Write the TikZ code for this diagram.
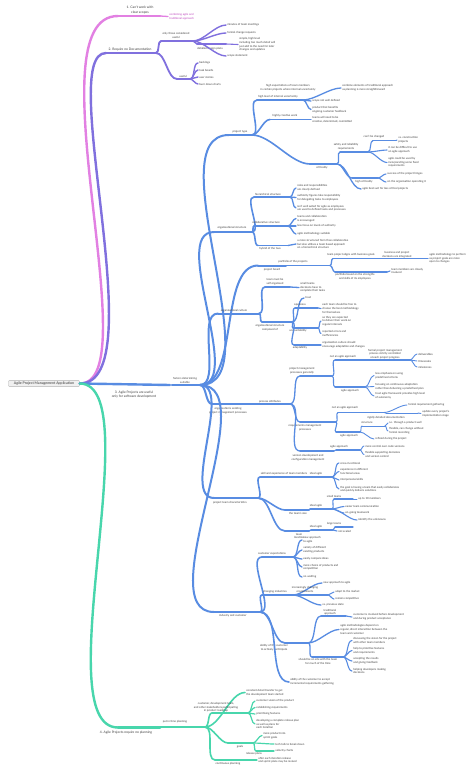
\documentclass[tikz,border=0pt]{standalone}
\usepackage{fontspec}
\setmainfont{Lato}
\definecolor{pinkc}{RGB}{226,128,226}
\definecolor{pinkt}{RGB}{190,70,190}
\definecolor{purpc}{RGB}{128,112,222}
\definecolor{bluec}{RGB}{88,140,226}
\definecolor{tealc}{RGB}{72,214,172}
\definecolor{txt}{RGB}{62,62,62}
\tikzset{
 cv/.style={out=0,in=180,looseness=0.75},
 ln/.style={line cap=round,line join=round},
 pk1/.style={ln,pinkc,line width=2.4bp}, pk2/.style={ln,pinkc,line width=1.3bp},
 pu1/.style={ln,purpc,line width=2.4bp}, pu2/.style={ln,purpc,line width=1.8bp},
 pu3/.style={ln,purpc,line width=1.4bp}, pu4/.style={ln,purpc,line width=1.1bp},
 bl1/.style={ln,bluec,line width=2.4bp}, bl2/.style={ln,bluec,line width=2bp},
 bl3/.style={ln,bluec,line width=1.6bp}, bl4/.style={ln,bluec,line width=1.3bp},
 bl5/.style={ln,bluec,line width=1.1bp}, bl6/.style={ln,bluec,line width=0.9bp},
 tl1/.style={ln,tealc,line width=2.4bp}, tl2/.style={ln,tealc,line width=2bp},
 tl3/.style={ln,tealc,line width=1.6bp}, tl4/.style={ln,tealc,line width=1.2bp},
 lbl/.style={inner sep=0pt,align=center,text=txt,font=\fontsize{2.8}{3.6}\selectfont},
 lbl1/.style={lbl,font=\fontsize{3.3}{4.1}\selectfont},
 leaf/.style={inner xsep=1.2bp,inner ysep=0pt,anchor=west,align=left,text=txt,font=\fontsize{2.8}{3.6}\selectfont},
 rootbox/.style={draw=gray!60,fill=gray!12,rounded corners=0.8bp,inner xsep=1.5bp,inner ysep=1.2bp,text=black!80,font=\fontsize{3.6}{4}\selectfont}
}
% name, style, xs, xj, line y, text x, text y, text
\newcommand\inode[9][lbl]{%
 \coordinate (#2s) at (#4,#6);
 \coordinate (#2) at (#5,#6);
 \draw[#3] (#2s) -- (#2);
 \node[#1] (#2t) at (#7,#8) {#9};}
\newcommand\lf[5][]{\node[leaf,#1] (#2) at (#3,#4) {#5};}
\newcommand\cl[3]{\draw[#1] (#2) to[cv] (#3);}
\begin{document}
\begin{tikzpicture}[x=1bp,y=-1bp]
\fill[white] (0,0) rectangle (474,772);
\useasboundingbox (0,0) rectangle (474,772);

% ---------- root
\node[rootbox,minimum width=71bp] (root) at (44,383.5) {Agile Project Management Application};

% ---------- 1 (pink)
\inode[lbl1]{P1}{pk1}{118}{160}{16}{140}{10}{1. Can't work with\\clear scopes}
\draw[pk1] (root.east) .. controls (150,384) and (30,16) .. (P1s);
\lf[text=pinkt]{P1a}{168}{16.5}{combining agile and\\traditional approach}
\draw[pk2] (P1) -- (P1a.west);

% ---------- 2 (purple)
\inode[lbl1]{P2}{pu1}{106}{156}{53}{130}{49.5}{2. Require no Documentation}
\draw[pu1] (root.east) .. controls (155,384) and (55,53) .. (P2s);
\inode{P2a}{pu2}{161}{193}{41}{176}{35.5}{only those considered\\useful}
\cl{pu2}{P2}{P2as}
\lf{P2a1}{226}{25}{minutes of team meetings}
\lf{P2a2}{226}{33}{formal change requests}
\inode{P2a3}{pu3}{197}{226}{44}{210}{48.5}{detailed design plans}
\lf{P2a3a}{238}{44.5}{simple, high level\\including too much detail will\\just add to the need for later\\changes and updates}
\lf{P2a4}{226}{56}{scope statement}
\cl{pu3}{P2a}{P2a1.west}
\cl{pu3}{P2a}{P2a2.west}
\cl{pu3}{P2a}{P2a3s}
\draw[pu4] (P2a3) -- (P2a3a.west);
\cl{pu3}{P2a}{P2a4.west}
\inode{P2b}{pu2}{177}{190}{79}{183}{76.5}{useful}
\cl{pu2}{P2}{P2bs}
\lf{P2b1}{198}{63}{backlogs}
\lf{P2b2}{198}{70}{task boards}
\lf{P2b3}{198}{77}{user stories}
\lf{P2b4}{198}{84}{burn down charts}
\foreach \k in {1,2,3,4}{\cl{pu3}{P2b}{P2b\k.west}}

% ---------- 3 (blue)
\node[lbl1] (B0t) at (134,395) {3. Agile Projects are useful\\only for software development};
\coordinate (B0) at (170,385);
\draw[bl1] (root.east) -- (B0);
\inode{J3}{bl1}{172}{200}{385}{185}{380.5}{factors determining\\suitable}

% project type
\inode{B1}{bl2}{229}{252}{135}{240}{131.5}{project type}
\cl{bl2}{J3}{B1s}
\inode{B1a}{bl3}{257}{303}{100}{278}{96.5}{high level of internal uncertainty}
\cl{bl3}{B1}{B1as}
\lf{B1a1}{311}{101}{scope not well defined}
\lf{B1a2}{311}{109.5}{product that benefits\\ongoing customer feedback}
\lf{B1a3}{341}{88}{combine elements of traditional approach\\as planning is more straightforward}
\cl{bl4}{B1a}{B1a1.west}
\cl{bl4}{B1a}{B1a2.west}
\cl{bl4}{B1a}{B1a3.west}
\node[lbl] (B1b) at (288,87.5) {high expectations of team members\\in certain projects where internal uncertainty};
\inode{B1c}{bl3}{270}{300}{119.5}{285}{116}{highly creative work}
\cl{bl3}{B1}{B1cs}
\lf{B1c1}{311}{119.5}{teams will need to be\\creative, determined, committed}
\cl{bl4}{B1c}{B1c1.west}
\inode{B1d}{bl3}{310}{337}{164}{322}{168}{criticality}
\cl{bl3}{B1}{B1ds}
\inode{B1d1}{bl4}{340}{368}{152}{346}{146.5}{safety and reliability\\requirements}
\cl{bl4}{B1d}{B1d1s}
\inode{B1d1a}{bl5}{373}{396}{140.5}{374}{137}{can't be changed}
\cl{bl5}{B1d1}{B1d1as}
\lf{B1d1a1}{397}{140}{vs. construction\\projects}
\draw[bl5] (B1d1a) -- (B1d1a1.west);
\lf{B1d1b}{387}{150}{it can be difficult to use\\an agile approach}
\lf{B1d1c}{387}{162.5}{agile could be used by\\incorporating some fixed\\requirements}
\cl{bl5}{B1d1}{B1d1b.west}
\cl{bl5}{B1d1}{B1d1c.west}
\inode{B1d2}{bl4}{352}{378}{178}{364}{181.5}{high criticality}
\cl{bl4}{B1d}{B1d2s}
\lf{B1d2a}{386}{174}{success of the project hinges}
\lf{B1d2b}{386}{182}{on the organisation operating it}
\cl{bl5}{B1d2}{B1d2a.west}
\cl{bl5}{B1d2}{B1d2b.west}
\lf{B1d3}{361}{189}{agile best suit for less critical projects}
\cl{bl4}{B1d}{B1d3.west}

% organisational structure
\inode{B2}{bl2}{214}{252}{232}{232}{227.5}{organisational structure}
\cl{bl2}{J3}{B2s}
\inode{B2a}{bl3}{254}{290}{197}{268}{194}{hierarchical structure}
\cl{bl3}{B2}{B2as}
\lf{B2a1}{296}{188}{roles and responsibilities\\are clearly defined}
\lf{B2a2}{296}{197.5}{authority figures take responsibility\\for delegating tasks to employees}
\lf{B2a3}{296}{208}{isn't well suited for agile as employees\\are used to defined tasks and processes}
\foreach \k in {1,2,3}{\cl{bl4}{B2a}{B2a\k.west}}
\inode{B2b}{bl3}{254}{288}{226}{266}{222}{collaborative structure}
\cl{bl3}{B2}{B2bs}
\lf{B2b1}{296}{218.5}{teams and collaboration\\is encouraged}
\lf{B2b2}{296}{226}{less focus on levels of authority}
\lf{B2b3}{296}{234}{agile methodology suitable}
\foreach \k in {1,2,3}{\cl{bl4}{B2b}{B2b\k.west}}
\inode{B2c}{bl3}{258}{288}{245.5}{270}{248.5}{hybrid of the two}
\cl{bl3}{B2}{B2cs}
\lf{B2c1}{296}{244}{a more structured form than collaborative\\but also utilises a team based approach\\on a hierarchical structure}
\cl{bl4}{B2c}{B2c1.west}

% project board
\inode{B3}{bl2}{258}{286}{265.5}{272}{269.5}{project board}
\cl{bl2}{J3}{B3s}
\inode{B3a}{bl3}{287}{330}{265.5}{293}{262}{portfolio of the projects}
\draw[bl3] (B3) -- (B3as);
\inode{B3a1}{bl4}{333}{379}{258.5}{351}{255}{team project aligns with business goals}
\cl{bl4}{B3a}{B3a1s}
\inode{B3a1a}{bl5}{381}{425}{258.5}{397}{255}{business and project\\decisions are integrated}
\draw[bl5] (B3a1) -- (B3a1as);
\lf{B3a1a1}{428}{258.5}{agile methodology to perform\\as project goals are more\\open to changes}
\draw[bl5] (B3a1a) -- (B3a1a1.west);
\inode{B3a2}{bl4}{335}{387}{272}{355}{276.5}{portfolio based on the strengths\\and skills of its employees}
\cl{bl4}{B3a}{B3a2s}
\lf{B3a2a}{390}{271}{team members are closely\\involved}
\draw[bl5] (B3a2) -- (B3a2a.west);

% organisational culture
\inode{B4}{bl2}{218}{259}{313.5}{234}{310.5}{organisational culture}
\cl{bl2}{J3}{B4s}
\inode{B4a}{bl3}{265}{290}{287}{275}{282}{team must be\\self organised}
\cl{bl3}{B4}{B4as}
\lf{B4a1}{299}{287.5}{small teams\\decisions have to\\complete their tasks}
\cl{bl4}{B4a}{B4a1.west}
\inode{B4b}{bl3}{262}{292}{322}{270}{327.5}{organisational structure\\composed of}
\cl{bl3}{B4}{B4bs}
\lf{B4b1}{304}{298}{trust}
\cl{bl4}{B4b}{B4b1.west}
\inode{B4b2}{bl4}{295}{318}{308}{300}{305}{openness}
\cl{bl4}{B4b}{B4b2s}
\lf{B4b2a}{321}{308.5}{each team should be free to\\choose the best methodology\\for themselves}
\draw[bl5] (B4b2) -- (B4b2a.west);
\inode{B4b3}{bl4}{293}{318}{328}{298}{331}{accountability}
\cl{bl4}{B4b}{B4b3s}
\lf{B4b3a}{321}{321}{so they are expected\\to deliver their work on\\regular intervals}
\lf{B4b3b}{321}{333.5}{reported errors and\\inefficiencies}
\cl{bl5}{B4b3}{B4b3a.west}
\cl{bl5}{B4b3}{B4b3b.west}
\inode{B4b4}{bl4}{294}{318}{345}{300}{347.5}{adaptability}
\cl{bl4}{B4b}{B4b4s}
\lf{B4b4a}{321}{345}{organisation culture should\\encourage adaptation and changes}
\draw[bl5] (B4b4) -- (B4b4a.west);

% existing processes
\inode{B5}{bl2}{212}{256}{404}{228}{410.5}{organisation's existing\\project management processes}
\cl{bl2}{J3}{B5s}
\inode{B5a}{bl3}{257}{290}{404}{270}{401.5}{process attributes}
\draw[bl3] (B5) -- (B5as);
\inode{B5b}{bl4}{300}{332}{376}{302}{370.5}{project management\\processes generally}
\cl{bl4}{B5a}{B5bs}
\inode{B5b1}{bl5}{335}{366}{360}{343}{357}{not an agile approach}
\cl{bl5}{B5b}{B5b1s}
\inode{B5b1a}{bl5}{367}{410}{360}{385}{354}{formal project management\\process strictly controlled\\at each project progress}
\draw[bl5] (B5b1) -- (B5b1as);
\lf{B5b1a1}{417}{354}{deliverables}
\lf{B5b1a2}{417}{361}{timescales}
\lf{B5b1a3}{417}{367}{milestones}
\foreach \k in {1,2,3}{\cl{bl6}{B5b1a}{B5b1a\k.west}}
\inode{B5b2}{bl5}{335}{365}{387}{350}{391}{agile approach}
\cl{bl5}{B5b}{B5b2s}
\lf{B5b2a}{374}{375.5}{less emphasis on using\\predefined criteria}
\lf{B5b2b}{374}{386.5}{focusing on continuous adaptation\\rather than delivering a predefined plan}
\lf{B5b2c}{374}{396}{trust agile framework provides high level\\of autonomy}
\foreach \k in {a,b,c}{\cl{bl6}{B5b2}{B5b2\k.west}}
\inode{B5c}{bl4}{300}{336}{422}{305}{427.5}{requirements management\\processes}
\cl{bl4}{B5a}{B5cs}
\inode{B5c1}{bl5}{338}{384}{412.5}{345}{407.5}{not an agile approach}
\cl{bl5}{B5c}{B5c1s}
\lf{B5c1a}{407}{405}{formal requirement gathering}
\cl{bl6}{B5c1}{B5c1a.west}
\inode{B5c1b}{bl6}{386}{418}{413}{386}{418}{rigidly detailed documentation}
\draw[bl6] (B5c1) -- (B5c1bs);
\lf{B5c1b1}{421}{413.5}{update every project's\\implementation stage}
\draw[bl6] (B5c1b) -- (B5c1b1.west);
\inode{B5c2}{bl5}{336}{360}{432}{349}{435.5}{agile approach}
\cl{bl5}{B5c}{B5c2s}
\inode{B5c2a}{bl6}{362}{385}{426}{367}{423}{structure}
\cl{bl6}{B5c2}{B5c2as}
\lf{B5c2a1}{388}{423}{i.e. through a product wall}
\lf{B5c2a2}{388}{431}{flexible, can change without\\formal recording}
\cl{bl6}{B5c2a}{B5c2a1.west}
\cl{bl6}{B5c2a}{B5c2a2.west}
\lf{B5c2b}{374}{439}{refined during the project}
\cl{bl6}{B5c2}{B5c2b.west}
\inode{B5d}{bl4}{300}{334}{451}{308}{457.5}{version development and\\configuration management}
\cl{bl4}{B5a}{B5ds}
\inode{B5d1}{bl5}{336}{360}{450}{339}{447}{agile approach}
\draw[bl5] (B5d) -- (B5d1s);
\lf{B5d1a}{364}{446}{more control over code versions}
\lf{B5d1b}{364}{454.5}{flexible supporting decisions\\and version control}
\cl{bl6}{B5d1}{B5d1a.west}
\cl{bl6}{B5d1}{B5d1b.west}

% project team characteristics
\inode{B6}{bl2}{214}{258}{498}{230}{502.5}{project team characteristics}
\cl{bl2}{J3}{B6s}
\inode{B6a}{bl3}{260}{308}{477}{284}{474}{skill and experience of team members}
\cl{bl3}{B6}{B6as}
\inode{B6a1}{bl4}{309}{332}{477}{316}{474}{ideal agile}
\draw[bl4] (B6a) -- (B6a1s);
\lf{B6a1a}{339}{463}{cross-functional}
\lf{B6a1b}{339}{471.5}{experience in different\\functional areas}
\lf{B6a1c}{339}{480}{interpersonal skills}
\lf{B6a1d}{339}{489}{the goal is having a team that easily collaborates\\and quickly delivers solutions}
\foreach \k in {a,b,c,d}{\cl{bl5}{B6a1}{B6a1\k.west}}
\inode{B6b}{bl3}{285}{309}{510}{298}{513.5}{the team's size}
\cl{bl3}{B6}{B6bs}
\inode{B6b1}{bl4}{310}{332}{509}{316}{506}{ideal agile}
\draw[bl4] (B6b) -- (B6b1s);
\inode{B6b1a}{bl5}{334}{353}{499}{334}{496}{small teams}
\cl{bl5}{B6b1}{B6b1as}
\lf{B6b1a1}{357}{499}{up to 10 members}
\draw[bl6] (B6b1a) -- (B6b1a1.west);
\lf{B6b1b}{344}{506.5}{easier team communication}
\lf{B6b1c}{344}{513}{on-going teamwork}
\lf{B6b1d}{357}{520}{identify the unknowns}
\foreach \k in {b,c,d}{\cl{bl5}{B6b1}{B6b1\k.west}}
\inode{B6c}{bl3}{285}{309}{531}{299}{536}{team\\location}
\cl{bl3}{B6}{B6cs}
\inode{B6c1}{bl4}{311}{333}{530}{316}{526.5}{ideal agile}
\draw[bl4] (B6c) -- (B6c1s);
\inode{B6c1a}{bl5}{335}{353}{527}{334}{523.5}{large teams}
\cl{bl5}{B6c1}{B6c1as}
\lf{B6c1b}{337}{531}{not scaled}
\cl{bl5}{B6c1}{B6c1b.west}

% industry and customer
\inode{B7}{bl2}{214}{260}{612}{233}{615.5}{industry and customer}
\cl{bl2}{J3}{B7s}
\inode{B7a}{bl3}{262}{293}{557}{272}{554}{customer expectations}
\cl{bl3}{B7}{B7as}
\lf{B7a1}{302}{540}{new approach\\to agile}
\lf{B7a2}{302}{550}{variety of different\\existing products}
\lf{B7a3}{302}{559}{easily compare ideas}
\lf{B7a4}{302}{567}{more choice of products and\\competition}
\lf{B7a5}{302}{577}{no waiting}
\foreach \k in {1,...,5}{\cl{bl4}{B7a}{B7a\k.west}}
\inode{B7b}{bl3}{262}{293}{595}{275}{592}{changing industries}
\cl{bl3}{B7}{B7bs}
\lf{B7b1}{322}{583}{new approach to agile}
\cl{bl4}{B7b}{B7b1.west}
\inode{B7b2}{bl4}{295}{328}{595}{305}{589.5}{increasingly changing\\environments}
\draw[bl4] (B7b) -- (B7b2s);
\lf{B7b2a}{334}{592}{adapt to the market}
\lf{B7b2b}{334}{599}{remain competitive}
\cl{bl5}{B7b2}{B7b2a.west}
\cl{bl5}{B7b2}{B7b2b.west}
\lf{B7b3}{321}{605}{vs. previous state}
\cl{bl4}{B7b}{B7b3.west}
\inode{B7c}{bl3}{285}{308}{643}{274}{647.5}{ability of the customer\\to actively participate}
\cl{bl3}{B7}{B7cs}
\inode{B7c1}{bl4}{321}{346}{616}{330}{612}{traditional\\approach}
\cl{bl4}{B7c}{B7c1s}
\lf{B7c1a}{352}{617}{customer is involved before development\\and during product acceptance}
\draw[bl5] (B7c1) -- (B7c1a.west);
\lf{B7c2}{339}{629.5}{agile methodologies depend on\\regular, direct interaction between the\\team and customer}
\cl{bl4}{B7c}{B7c2.west}
\inode{B7c3}{bl4}{312}{343}{657}{318}{661.5}{should be on site with the team\\for much of the time}
\cl{bl4}{B7c}{B7c3s}
\lf{B7c3a}{352}{640.5}{discussing the vision for the project\\with other team members}
\lf{B7c3b}{352}{650.5}{help to prioritise features\\and requirements}
\lf{B7c3c}{352}{661}{accepting the results\\and giving feedback}
\lf{B7c3d}{352}{671}{helping developers making\\decisions}
\foreach \k in {a,b,c,d}{\cl{bl5}{B7c3}{B7c3\k.west}}
\lf{B7d}{289}{682}{ability of the customer to accept\\incremental requirements gathering}
\cl{bl3}{B7}{B7d.west}

% ---------- 4 (teal)
\inode[lbl1]{T4}{tl1}{118}{160}{727.5}{126}{732.5}{4. Agile Projects require no planning}
\draw[tl1] (root.east) .. controls (150,384) and (45,727.5) .. (T4s);
\inode{T4a}{tl2}{161}{205}{727}{175}{722}{put in time planning}
\draw[tl2] (T4) -- (T4as);
\lf{T4a1}{245}{692.5}{constant detail transfer to get\\the development team started}
\cl{tl3}{T4a}{T4a1.west}
\inode{T4a2}{tl3}{212}{248}{713}{216}{707.5}{customer, development team,\\and other stakeholders participating\\in product roadmap}
\cl{tl3}{T4a}{T4a2s}
\lf{T4a2a}{255}{701}{customer vision of the product}
\lf{T4a2b}{255}{707.5}{establishing requirements}
\lf{T4a2c}{255}{714}{prioritising features}
\lf{T4a2d}{255}{724}{developing a complete release plan\\as well as plans for\\each iteration}
\foreach \k in {a,b,c,d}{\cl{tl4}{T4a2}{T4a2\k.west}}
\inode{T4a3}{tl3}{228}{253}{743}{240}{747}{goals}
\cl{tl3}{T4a}{T4a3s}
\lf{T4a3a}{262}{735.5}{more product into\\sprint goals}
\lf{T4a3b}{274}{744}{tech talk to break down}
\cl{tl4}{T4a3}{T4a3a.west}
\cl{tl4}{T4a3}{T4a3b.west}
\inode{T4a3c}{tl4}{256}{272}{751}{254}{754}{release plans}
\cl{tl4}{T4a3}{T4a3cs}
\lf{T4a3c1}{274}{751}{velocity charts}
\draw[tl4] (T4a3c) -- (T4a3c1.west);
\inode{T4a4}{tl3}{215}{252}{760}{228}{764}{continuous planning}
\cl{tl3}{T4a}{T4a4s}
\lf{T4a4a}{257}{760}{after each iteration release\\and sprint plans may be revised}
\draw[tl4] (T4a4) -- (T4a4a.west);
\end{tikzpicture}
\end{document}
